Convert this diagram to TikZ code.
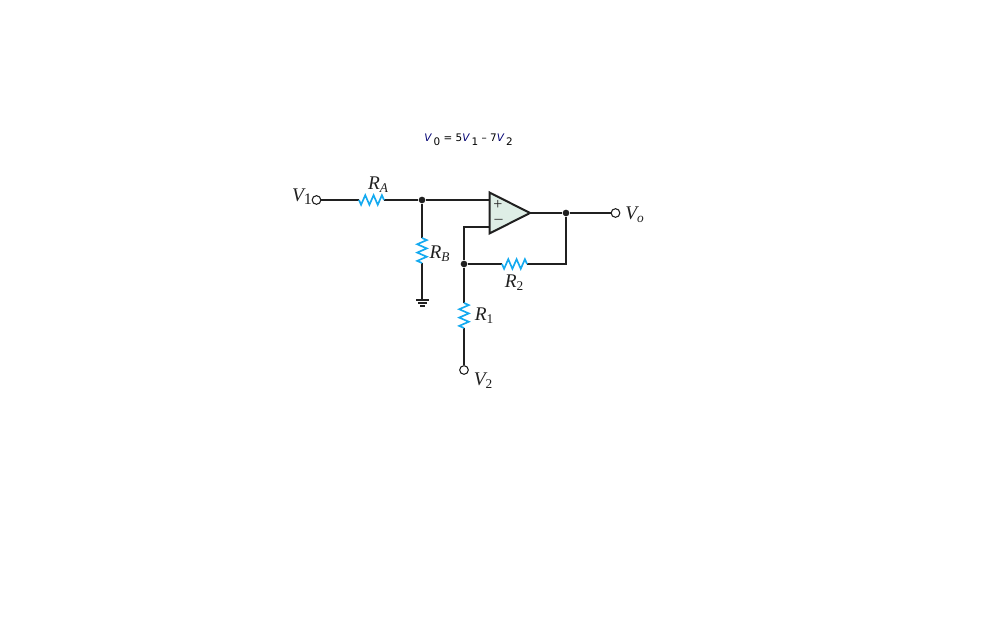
\documentclass[tikz,border=0pt]{standalone}
\usepackage{fontspec}
\setmainfont{Liberation Serif}
\newfontfamily\eqfont{DejaVu Sans}
\usetikzlibrary{decorations.pathmorphing}
\definecolor{resblue}{RGB}{20,170,240}
\definecolor{opfill}{RGB}{222,238,230}
\definecolor{inkdark}{RGB}{32,32,32}

\begin{document}
\begin{tikzpicture}[%
		x=0.75pt,y=-0.75pt,
		wire/.style={
			line width=1.5pt,
			inkdark
		},
		resistor/.style={
			line width=1.25pt,
			resblue,
			decorate,
			decoration={zigzag,amplitude=3.6pt,segment length=6.25pt}
		},
		terminal/.style={
			circle,
			inner sep=0pt,
			minimum size=6.5pt,
			line width=0.8pt,
			inkdark,
			fill=white,
			draw
		},
		junction/.style={
			circle,
			inner sep=0pt,
			minimum size=5pt,
			fill=inkdark
		},
		vlabel/.style={
			font=\fontsize{14.5}{16}\selectfont\itshape,
			inkdark,
			inner sep=0pt
		},
		sign/.style={
			font=\fontsize{12}{12}\selectfont,
			inkdark,
			inner sep=0pt
		}]

		\useasboundingbox (0,0) rectangle (1008,630);

		% EQUATION

		\node (equation) [inner sep=0pt,anchor=west,font=\fontsize{7.8}{9}\selectfont\eqfont] at (424,139.5) {%
			\textcolor{blue!45!black}{\textit{V}}\raisebox{-3pt}{\,0} = 5\textcolor{blue!45!black}{\textit{V}}\raisebox{-3pt}{\,1} – 7\textcolor{blue!45!black}{\textit{V}}\raisebox{-3pt}{\,2}};

		% COORDINATES

		\coordinate (RA-in) at (359,200);
		\coordinate (RA-out) at (384,200);
		\coordinate (RB-in) at (422,238);
		\coordinate (RB-out) at (422,263);
		\coordinate (gnd) at (422,300.5);
		\coordinate (R2-in) at (502,264);
		\coordinate (R2-out) at (527,264);
		\coordinate (R1-in) at (464,303);
		\coordinate (R1-out) at (464,328);
		\coordinate (fb-top) at (464,227);
		\coordinate (fb-corner) at (566,264);
		\coordinate (plus-in) at (489.5,200);
		\coordinate (minus-in) at (489.5,227);
		\coordinate (opamp-a) at (489.5,192.5);
		\coordinate (opamp-b) at (489.5,233.5);
		\coordinate (opamp-out) at (530,213);

		\node (V1) [terminal] at (316.5,200) {};
		\node (Vo) [terminal] at (615.5,213) {};
		\node (V2) [terminal] at (464,370) {};
		\node (j1) [junction] at (422,200) {};
		\node (j2) [junction] at (464,264) {};
		\node (j3) [junction] at (566,213) {};

		% OP AMP

		\draw[wire,fill=opfill,line join=miter] (opamp-a) -- (opamp-out) -- (opamp-b) -- cycle;
		\node (plus) [sign] at (498,205) {+};
		\node (minus) [sign] at (498.5,221.5) {–};

		% LINES

		\draw[wire] (V1) -- (RA-in);
		\draw[wire] (RA-out) -- (j1) -- (plus-in);
		\draw[wire] (j1) -- (RB-in);
		\draw[wire] (RB-out) -- (gnd);
		\draw[wire] (minus-in) -- (fb-top) -- (j2);
		\draw[wire] (j2) -- (R2-in);
		\draw[wire] (R2-out) -- (fb-corner) -- (j3);
		\draw[wire] (opamp-out) -- (j3) -- (Vo);
		\draw[wire] (j2) -- (R1-in);
		\draw[wire] (R1-out) -- (V2);

		% RESISTORS

		\draw[resistor,decoration={mirror}] (RA-in) -- (RA-out);
		\draw[resistor] (RB-in) -- (RB-out);
		\draw[resistor,decoration={mirror}] (R2-in) -- (R2-out);
		\draw[resistor] (R1-in) -- (R1-out);

		% GROUND

		\draw[wire] (416,300.5) -- (428.5,300.5);
		\draw[wire] (418,303.5) -- (426.5,303.5);
		\draw[wire] (420,306.5) -- (424.5,306.5);

		% LABELS

		\node (V1-label) [vlabel] at (302,197) {V\raisebox{-2.5pt}{\fontsize{12}{12}\selectfont\upshape 1}};
		\node (RA-label) [vlabel] at (378,185) {R\raisebox{-2.5pt}{\fontsize{10}{11}\selectfont A}};
		\node (RB-label) [vlabel] at (439.5,254) {R\raisebox{-2.5pt}{\fontsize{10}{11}\selectfont B}};
		\node (R2-label) [vlabel] at (514,283) {R\raisebox{-2.5pt}{\fontsize{10}{11}\selectfont\upshape 2}};
		\node (R1-label) [vlabel] at (484,316) {R\raisebox{-2.5pt}{\fontsize{10}{11}\selectfont\upshape 1}};
		\node (Vo-label) [vlabel] at (634.5,215) {V\raisebox{-2.5pt}{\fontsize{10}{11}\selectfont o}};
		\node (V2-label) [vlabel] at (483,381) {V\raisebox{-2.5pt}{\fontsize{10}{11}\selectfont\upshape 2}};
\end{tikzpicture}
\end{document}
